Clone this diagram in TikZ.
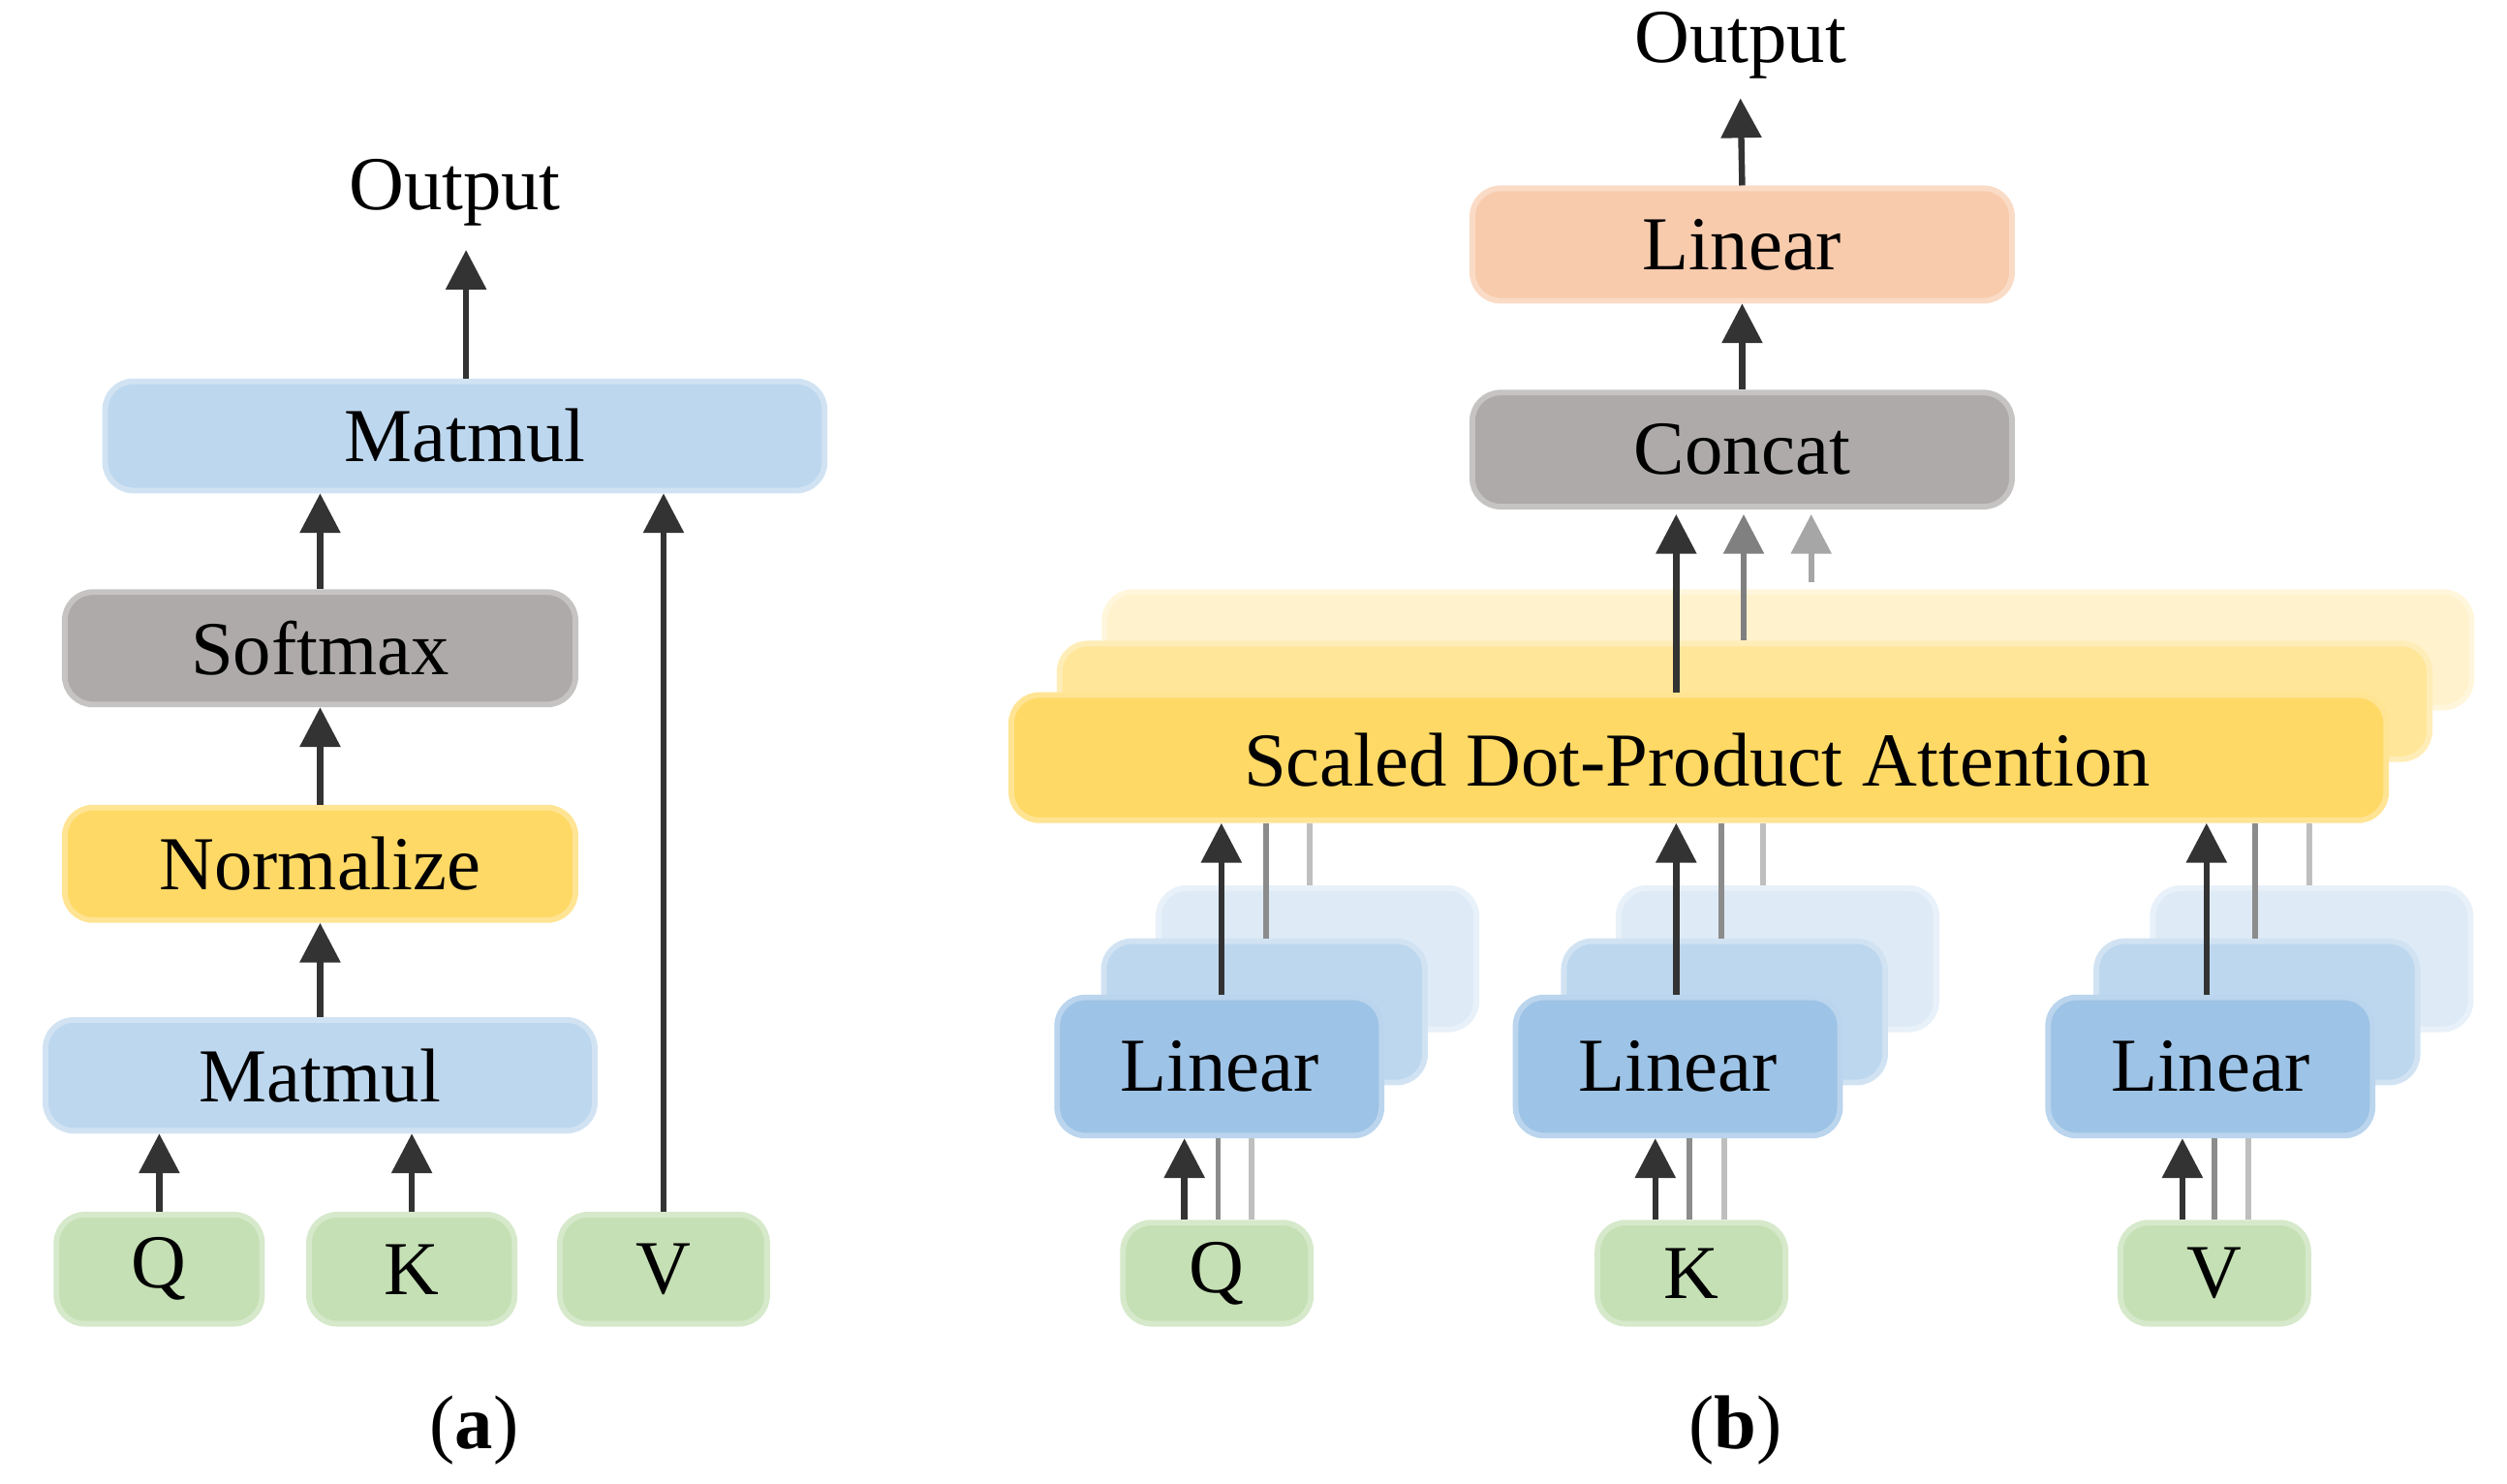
\documentclass[tikz,border=0pt]{standalone}
\usepackage{fontspec}
\setmainfont{Liberation Serif}
\usetikzlibrary{arrows.meta}
\definecolor{lblue}{HTML}{BDD7EE}
\definecolor{mblue}{HTML}{9DC3E6}
\definecolor{pblue}{HTML}{DEEBF7}
\definecolor{gry}{HTML}{AEAAAA}
\definecolor{yel}{HTML}{FFD966}
\definecolor{yel2}{HTML}{FFE699}
\definecolor{yel3}{HTML}{FFF2CC}
\definecolor{grn}{HTML}{C5E0B4}
\definecolor{org}{HTML}{F8CBAD}
\newcommand\bx[6]{\node[box,fill=#6,draw=#6!70!white,minimum width={(#4-#2)*0.01cm},minimum height={(#5-#3)*0.01cm}] (#1) at ({(#2+#4)*0.005},{-(#3+#5)*0.005}) {};}
\tikzset{box/.style={rounded corners=5pt,line width=1pt,inner sep=0pt},
 arr/.style={-{Triangle[length=7pt,width=7pt]},line width=1.1pt,draw=black!80},
 arrg/.style={arr,draw=black!50,-{Triangle[length=7pt,width=7pt,fill=black!50]}},
 arrl/.style={arr,draw=black!35,-{Triangle[length=7pt,width=7pt,fill=black!35]}},
 ln/.style={line width=1pt,draw=black!45},
 lnl/.style={line width=1pt,draw=black!25},
 txt/.style={font=\fontsize{13.5}{15}\selectfont}}
\begin{document}
\begin{tikzpicture}
\useasboundingbox (0,0) rectangle (15.6,-9.23);
% (a)
\bx{mm2}{65}{237}{513}{305}{lblue}
\bx{sm}{40}{368}{358}{438}{gry}
\bx{nm}{40}{502}{358}{572}{yel}
\bx{mm1}{28}{634}{370}{703}{lblue}
\bx{qa}{35}{755}{163}{823}{grn}
\bx{ka}{192}{755}{320}{823}{grn}
\bx{va}{348}{755}{477}{823}{grn}
\node[txt] at (mm2) {Matmul};
\node[txt] at (sm) {Softmax};
\node[txt] at (nm) {Normalize};
\node[txt] at (mm1) {Matmul};
\node[txt] at (qa) {Q};
\node[txt] at (ka) {K};
\node[txt] at (va) {V};
\node[txt] (outa) at (2.83,-1.2) {Output};
\draw[arr] (qa.north) -- (qa.north |- mm1.south);
\draw[arr] (ka.north) -- (ka.north |- mm1.south);
\draw[arr] (mm1.north -| nm.south) -- (nm.south);
\draw[arr] (nm.north) -- (sm.south);
\draw[arr] (sm.north) -- (sm.north |- mm2.south);
\draw[arr] (va.north) -- (va.north |- mm2.south);
\draw[arr] (mm2.north -| outa.south) ++(0.07,0) -- ++(0,0.8) coordinate (oa);
\node[txt] at (2.95,-8.9) {(\textbf{a})};
% (b)
\bx{lin}{915}{117}{1251}{187}{org}
\bx{cc}{915}{244}{1251}{315}{gry}
\node[txt] at (lin) {Linear};
\node[txt] at (cc) {Concat};
\node[txt] (outb) at (10.83,-0.28) {Output};
\draw[arr] (cc.north) -- (lin.south);
\draw[arr] (lin.north) -- (outb.south);
\bx{s3}{686}{368}{1537}{440}{yel3}
\bx{s2}{658}{400}{1511}{472}{yel2}
\bx{s1}{628}{432}{1484}{510}{yel}
\node[txt] at (10.56,-4.73) {Scaled Dot-Product Attention};
\coordinate (c1) at (10.43,-3.2); \coordinate (c2) at (10.85,-3.2); \coordinate (c3) at (11.27,-3.2);
\draw[arr] (s1.north -| c1) -- (c1);
\draw[arrg] (s2.north -| c2) -- (c2);
\draw[arrl] (11.27,-3.62) -- (c3);
\foreach \n/\a/\b/\c/\la/\lb/\lc/\qx/\ia/\ib/\ic in {
 q/657/686/720/7.60/7.88/8.15/698/7.37/7.58/7.79,
 k/942/972/1006/10.43/10.71/10.97/993/10.30/10.51/10.73,
 v/1273/1303/1338/13.73/14.03/14.37/1318/13.58/13.78/13.99}{
 \bx{\n3}{\c}{552}{\c+198}{640}{pblue}
 \bx{\n2}{\b}{585}{\b+200}{673}{lblue}
 \bx{\n1}{\a}{620}{\a+202}{706}{mblue}
 \node[txt] at (\n1) {Linear};
 \bx{\n i}{\qx}{760}{\qx+117}{823}{grn}
 \draw[arr] (\n1.north -| \la,0) -- (s1.south -| \la,0);
 \draw[ln] (\n2.north -| \lb,0) -- (s1.south -| \lb,0);
 \draw[lnl] (\n3.north -| \lc,0) -- (s1.south -| \lc,0);
 \draw[arr] (\n i.north -| \ia,0) -- (\n1.south -| \ia,0);
 \draw[ln] (\n i.north -| \ib,0) -- (\n1.south -| \ib,0);
 \draw[lnl] (\n i.north -| \ic,0) -- (\n1.south -| \ic,0);
}
\node[txt] at (qi) {Q};
\node[txt] at (ki) {K};
\node[txt] at (vi) {V};
\node[txt] at (10.8,-8.9) {(\textbf{b})};
\end{tikzpicture}
\end{document}
